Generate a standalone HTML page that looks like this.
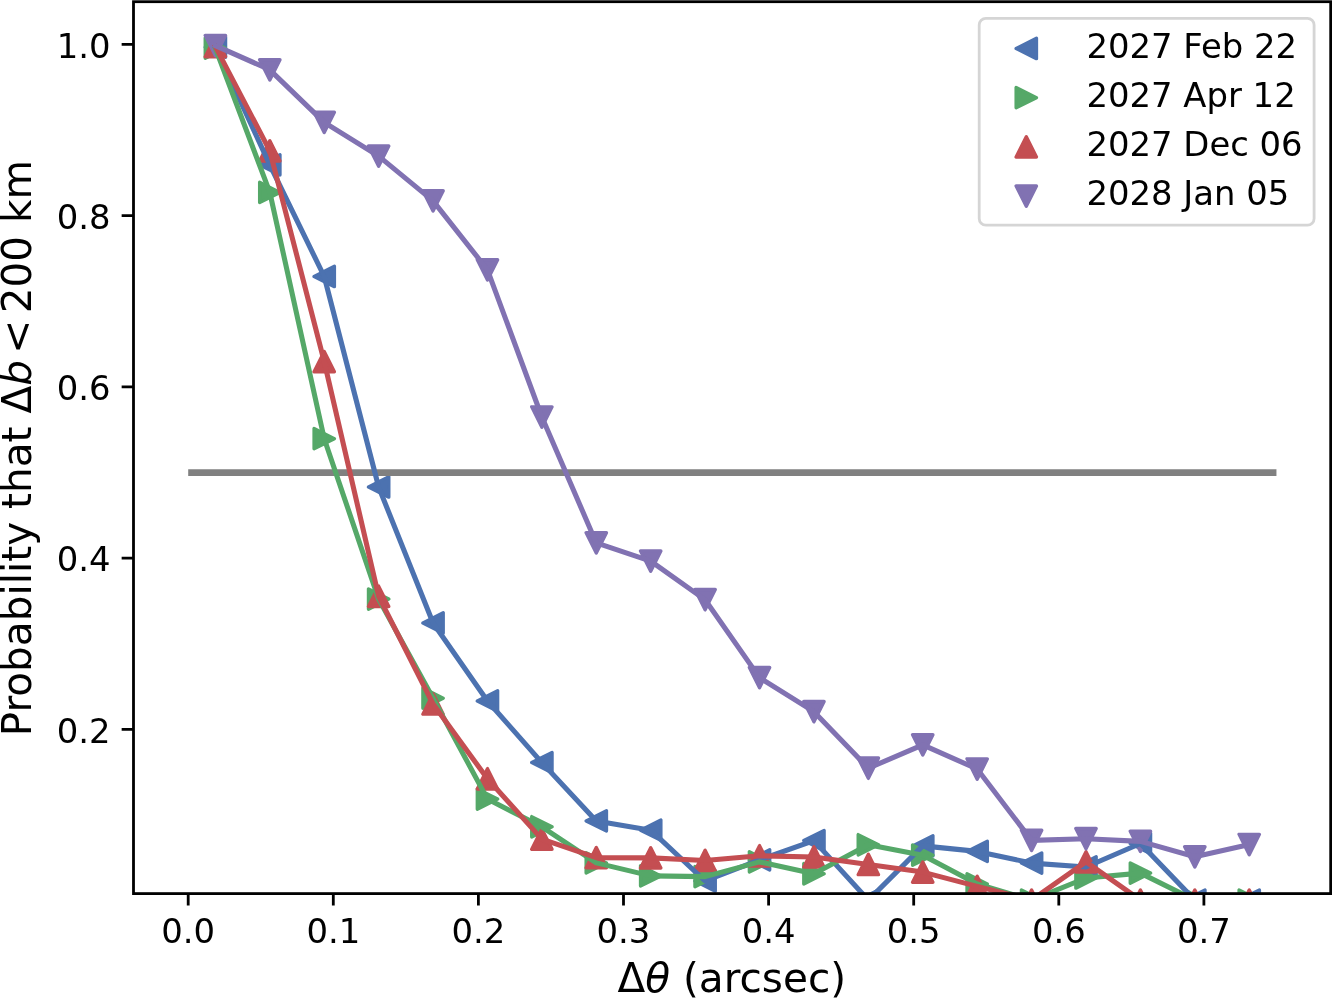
<!DOCTYPE html>
<html><head><meta charset="utf-8"><title>Probability plot</title>
<style>html,body{margin:0;padding:0;background:#fff;overflow:hidden}svg{display:block}text{font-family:'DejaVu Sans', 'Liberation Sans', sans-serif;fill:#000}</style></head><body>
<svg width="1332" height="998" viewBox="0 0 1332 998">
<rect x="0" y="0" width="1332" height="998" fill="#fff"/>
<defs><clipPath id="ax"><rect x="133.50" y="1.70" width="1197.20" height="891.90"/></clipPath></defs>
<g clip-path="url(#ax)">
<path d="M205.25 47.20 L225.56 37.05 L225.56 57.36 Z M259.66 164.90 L279.97 154.75 L279.97 175.06 Z M314.08 276.50 L334.39 266.35 L334.39 286.65 Z M368.49 487.00 L388.80 476.85 L388.80 497.15 Z M422.90 623.00 L443.21 612.85 L443.21 633.15 Z M477.31 701.00 L497.62 690.85 L497.62 711.15 Z M531.73 762.60 L552.04 752.45 L552.04 772.75 Z M586.14 820.90 L606.45 810.75 L606.45 831.05 Z M640.55 830.20 L660.86 820.05 L660.86 840.36 Z M694.96 881.00 L715.27 870.85 L715.27 891.15 Z M749.38 859.90 L769.69 849.75 L769.69 870.05 Z M803.79 840.60 L824.10 830.45 L824.10 850.75 Z M858.20 900.10 L878.51 889.95 L878.51 910.25 Z M912.61 845.90 L932.92 835.75 L932.92 856.05 Z M967.03 851.40 L987.34 841.25 L987.34 861.55 Z M1021.44 863.10 L1041.75 852.95 L1041.75 873.25 Z M1075.85 867.00 L1096.16 856.85 L1096.16 877.15 Z M1130.26 843.50 L1150.57 833.35 L1150.57 853.65 Z M1184.68 900.10 L1204.99 889.95 L1204.99 910.25 Z M1239.09 900.10 L1259.40 889.95 L1259.40 910.25 Z" fill="#4c72b0" stroke="#4c72b0" stroke-width="3.385" stroke-linejoin="round"/>
<path d="M225.56 48.20 L205.25 38.05 L205.25 58.36 Z M279.97 192.40 L259.66 182.25 L259.66 202.56 Z M334.39 438.70 L314.08 428.55 L314.08 448.85 Z M388.80 599.10 L368.49 588.95 L368.49 609.25 Z M443.21 698.20 L422.90 688.05 L422.90 708.36 Z M497.62 799.10 L477.31 788.95 L477.31 809.25 Z M552.04 826.80 L531.73 816.64 L531.73 836.95 Z M606.45 862.90 L586.14 852.75 L586.14 873.05 Z M660.86 875.90 L640.55 865.75 L640.55 886.05 Z M715.27 876.60 L694.96 866.45 L694.96 886.75 Z M769.69 861.90 L749.38 851.75 L749.38 872.05 Z M824.10 873.80 L803.79 863.64 L803.79 883.95 Z M878.51 844.80 L858.20 834.64 L858.20 854.95 Z M932.92 855.20 L912.61 845.05 L912.61 865.36 Z M987.34 883.90 L967.03 873.75 L967.03 894.05 Z M1041.75 900.10 L1021.44 889.95 L1021.44 910.25 Z M1096.16 878.00 L1075.85 867.85 L1075.85 888.15 Z M1150.57 873.10 L1130.26 862.95 L1130.26 883.25 Z M1204.99 900.10 L1184.68 889.95 L1184.68 910.25 Z M1259.40 900.10 L1239.09 889.95 L1239.09 910.25 Z" fill="#55a868" stroke="#55a868" stroke-width="3.385" stroke-linejoin="round"/>
<path d="M215.41 36.45 L205.25 56.76 L225.56 56.76 Z M269.82 140.75 L259.66 161.06 L279.97 161.06 Z M324.23 351.45 L314.08 371.75 L334.39 371.75 Z M378.64 586.14 L368.49 606.45 L388.80 606.45 Z M433.06 693.85 L422.90 714.15 L443.21 714.15 Z M487.47 768.64 L477.31 788.95 L497.62 788.95 Z M541.88 828.95 L531.73 849.25 L552.04 849.25 Z M596.29 847.55 L586.14 867.86 L606.45 867.86 Z M650.71 847.75 L640.55 868.05 L660.86 868.05 Z M705.12 850.35 L694.96 870.65 L715.27 870.65 Z M759.53 845.64 L749.38 865.95 L769.69 865.95 Z M813.94 846.85 L803.79 867.15 L824.10 867.15 Z M868.36 854.35 L858.20 874.65 L878.51 874.65 Z M922.77 861.95 L912.61 882.25 L932.92 882.25 Z M977.18 876.25 L967.03 896.55 L987.34 896.55 Z M1031.59 889.95 L1021.44 910.25 L1041.75 910.25 Z M1086.01 851.64 L1075.85 871.95 L1096.16 871.95 Z M1140.42 889.95 L1130.26 910.25 L1150.57 910.25 Z M1194.83 889.95 L1184.68 910.25 L1204.99 910.25 Z M1249.24 889.95 L1239.09 910.25 L1259.40 910.25 Z" fill="#c44e52" stroke="#c44e52" stroke-width="3.385" stroke-linejoin="round"/>
<path d="M215.41 55.76 L205.25 35.45 L225.56 35.45 Z M269.82 79.95 L259.66 59.64 L279.97 59.64 Z M324.23 132.56 L314.08 112.25 L334.39 112.25 Z M378.64 166.25 L368.49 145.94 L388.80 145.94 Z M433.06 211.06 L422.90 190.75 L443.21 190.75 Z M487.47 279.95 L477.31 259.65 L497.62 259.65 Z M541.88 427.15 L531.73 406.85 L552.04 406.85 Z M596.29 553.05 L586.14 532.75 L606.45 532.75 Z M650.71 571.25 L640.55 550.95 L660.86 550.95 Z M705.12 609.86 L694.96 589.55 L715.27 589.55 Z M759.53 687.75 L749.38 667.45 L769.69 667.45 Z M813.94 721.86 L803.79 701.55 L824.10 701.55 Z M868.36 778.36 L858.20 758.05 L878.51 758.05 Z M922.77 755.05 L912.61 734.75 L932.92 734.75 Z M977.18 779.15 L967.03 758.85 L987.34 758.85 Z M1031.59 850.55 L1021.44 830.25 L1041.75 830.25 Z M1086.01 848.86 L1075.85 828.55 L1096.16 828.55 Z M1140.42 851.55 L1130.26 831.25 L1150.57 831.25 Z M1194.83 866.95 L1184.68 846.64 L1204.99 846.64 Z M1249.24 854.65 L1239.09 834.35 L1259.40 834.35 Z" fill="#8172b2" stroke="#8172b2" stroke-width="3.385" stroke-linejoin="round"/>
<line x1="188.20" y1="472.52" x2="1276.45" y2="472.52" stroke="#808080" stroke-width="6.77"/>
<polyline points="215.41,47.20 269.82,164.90 324.23,276.50 378.64,487.00 433.06,623.00 487.47,701.00 541.88,762.60 596.29,820.90 650.71,830.20 705.12,881.00 759.53,859.90 813.94,840.60 868.36,900.10 922.77,845.90 977.18,851.40 1031.59,863.10 1086.01,867.00 1140.42,843.50 1194.83,900.10 1249.24,900.10" fill="none" stroke="#4c72b0" stroke-width="5.08" stroke-linejoin="round" stroke-linecap="square"/>
<polyline points="215.41,48.20 269.82,192.40 324.23,438.70 378.64,599.10 433.06,698.20 487.47,799.10 541.88,826.80 596.29,862.90 650.71,875.90 705.12,876.60 759.53,861.90 813.94,873.80 868.36,844.80 922.77,855.20 977.18,883.90 1031.59,900.10 1086.01,878.00 1140.42,873.10 1194.83,900.10 1249.24,900.10" fill="none" stroke="#55a868" stroke-width="5.08" stroke-linejoin="round" stroke-linecap="square"/>
<polyline points="215.41,46.60 269.82,150.90 324.23,361.60 378.64,596.30 433.06,704.00 487.47,778.80 541.88,839.10 596.29,857.70 650.71,857.90 705.12,860.50 759.53,855.80 813.94,857.00 868.36,864.50 922.77,872.10 977.18,886.40 1031.59,900.10 1086.01,861.80 1140.42,900.10 1194.83,900.10 1249.24,900.10" fill="none" stroke="#c44e52" stroke-width="5.08" stroke-linejoin="round" stroke-linecap="square"/>
<polyline points="215.41,45.60 269.82,69.80 324.23,122.40 378.64,156.10 433.06,200.90 487.47,269.80 541.88,417.00 596.29,542.90 650.71,561.10 705.12,599.70 759.53,677.60 813.94,711.70 868.36,768.20 922.77,744.90 977.18,769.00 1031.59,840.40 1086.01,838.70 1140.42,841.40 1194.83,856.80 1249.24,844.50" fill="none" stroke="#8172b2" stroke-width="5.08" stroke-linejoin="round" stroke-linecap="square"/>
</g>
<rect x="133.50" y="1.70" width="1197.20" height="891.90" fill="none" stroke="#000" stroke-width="2.80" stroke-linejoin="miter"/>
<path d="M188.20 893.60 V905.45 M333.30 893.60 V905.45 M478.40 893.60 V905.45 M623.50 893.60 V905.45 M768.60 893.60 V905.45 M913.70 893.60 V905.45 M1058.80 893.60 V905.45 M1203.90 893.60 V905.45 M133.50 729.40 H121.65 M133.50 558.15 H121.65 M133.50 386.90 H121.65 M133.50 215.65 H121.65 M133.50 44.40 H121.65" stroke="#000" stroke-width="2.80" fill="none"/>
<text x="188.20" y="942.7" font-size="33.85" text-anchor="middle">0.0</text>
<text x="333.30" y="942.7" font-size="33.85" text-anchor="middle">0.1</text>
<text x="478.40" y="942.7" font-size="33.85" text-anchor="middle">0.2</text>
<text x="623.50" y="942.7" font-size="33.85" text-anchor="middle">0.3</text>
<text x="768.60" y="942.7" font-size="33.85" text-anchor="middle">0.4</text>
<text x="913.70" y="942.7" font-size="33.85" text-anchor="middle">0.5</text>
<text x="1058.80" y="942.7" font-size="33.85" text-anchor="middle">0.6</text>
<text x="1203.90" y="942.7" font-size="33.85" text-anchor="middle">0.7</text>
<text x="110.6" y="742.50" font-size="33.85" text-anchor="end">0.2</text>
<text x="110.6" y="571.25" font-size="33.85" text-anchor="end">0.4</text>
<text x="110.6" y="400.00" font-size="33.85" text-anchor="end">0.6</text>
<text x="110.6" y="228.75" font-size="33.85" text-anchor="end">0.8</text>
<text x="110.6" y="57.50" font-size="33.85" text-anchor="end">1.0</text>
<text x="617.5" y="992.4" font-size="40.60">&#916;<tspan font-style="italic">&#952;</tspan> (arcsec)</text>
<text transform="translate(30.7,736.3) rotate(-90)" font-size="40.60">Probability that &#916;<tspan font-style="italic">b</tspan><tspan dx="-6.6"> &lt;</tspan><tspan dx="-6.4"> 200 km</tspan></text>
<rect x="979.2" y="18.3" width="334.9" height="206.8" rx="6.7" ry="6.7" fill="#fff" fill-opacity="0.8" stroke="#d5d5d5" stroke-width="2.8"/>
<path d="M1016.14 48.50 L1036.45 38.34 L1036.45 58.66 Z" fill="#4c72b0" stroke="#4c72b0" stroke-width="3.385" stroke-linejoin="round"/>
<text x="1086.5" y="57.80" font-size="33.85">2027 Feb 22</text>
<path d="M1036.45 97.70 L1016.14 87.55 L1016.14 107.86 Z" fill="#55a868" stroke="#55a868" stroke-width="3.385" stroke-linejoin="round"/>
<text x="1086.5" y="106.90" font-size="33.85">2027 Apr 12</text>
<path d="M1026.30 136.75 L1016.14 157.06 L1036.45 157.06 Z" fill="#c44e52" stroke="#c44e52" stroke-width="3.385" stroke-linejoin="round"/>
<text x="1086.5" y="156.00" font-size="33.85">2027 Dec 06</text>
<path d="M1026.30 206.26 L1016.14 185.95 L1036.45 185.95 Z" fill="#8172b2" stroke="#8172b2" stroke-width="3.385" stroke-linejoin="round"/>
<text x="1086.5" y="205.10" font-size="33.85">2028 Jan 05</text>
</svg>
</body></html>
